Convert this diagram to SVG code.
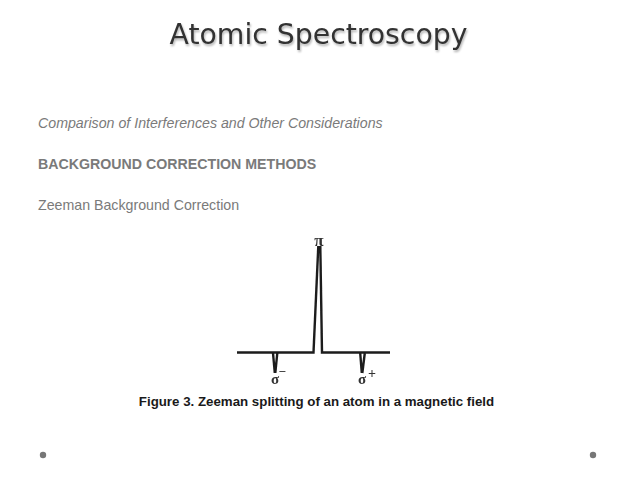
<svg xmlns="http://www.w3.org/2000/svg" width="638" height="478" viewBox="0 0 638 478">
<defs>
<filter id="soft" x="-5%" y="-30%" width="110%" height="170%"><feGaussianBlur in="SourceAlpha" stdDeviation="1"/><feOffset dx="1" dy="2"/><feComponentTransfer><feFuncA type="linear" slope="0.3"/></feComponentTransfer><feMerge><feMergeNode/><feMergeNode in="SourceGraphic"/></feMerge></filter>
<filter id="blur" x="-5%" y="-5%" width="110%" height="110%"><feGaussianBlur stdDeviation="0.45"/></filter>
</defs>
<style>
text{font-family:"Liberation Sans",Arial,sans-serif}
.b{font-size:14.2px;fill:#7a7a7a}
.l{fill:none;stroke:#1c1c1c;stroke-width:2.4}
.s{font-family:"Liberation Serif",serif;fill:#333;font-weight:bold}
</style>
<rect width="638" height="478" fill="#fff"/>
<text x="318.500" y="44" text-anchor="middle" filter="url(#soft)" style='font-family:"DejaVu Sans",Verdana,sans-serif;font-size:28.300px;fill:#333'>Atomic Spectroscopy</text>
<text x="38" y="128" class="b" font-style="italic">Comparison of Interferences and Other Considerations</text>
<text x="38" y="169" class="b" font-weight="bold">BACKGROUND CORRECTION METHODS</text>
<text x="38" y="210" class="b">Zeeman Background Correction</text>
<g id="spectrum" filter="url(#blur)">
<path class="l" d="M237 352.500H313.500L318.300 246M320.300 246L322 352.500H390"/>
<path class="l" d="M273 353L274.800 373M277.300 353L275.300 373"/>
<path class="l" d="M360.200 353L361.800 373M364.800 353L362.300 373"/>
<text x="319" y="246" text-anchor="middle" class="s" font-size="17">π</text>
<text x="275" y="384" text-anchor="middle" class="s" font-size="15">σ</text>
<text x="362" y="384" text-anchor="middle" class="s" font-size="15">σ</text>
<text x="278.500" y="376" class="s" font-size="13">−</text>
<text x="368" y="378" class="s" font-size="14">+</text>
</g>
<text x="316.500" y="406" text-anchor="middle" font-size="13.300" font-weight="bold" fill="#1a1a1a">Figure 3. Zeeman splitting of an atom in a magnetic field</text>
<circle cx="43" cy="455" r="3.200" fill="#777"/>
<circle cx="593" cy="455" r="3.200" fill="#777"/>
</svg>
